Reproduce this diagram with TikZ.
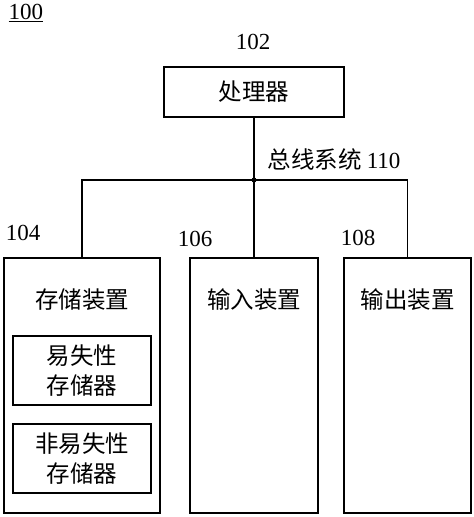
\documentclass[tikz,border=0pt]{standalone}
\usepackage{fontspec}
\setmainfont{Liberation Serif}
\newfontfamily\cjk{Noto Sans CJK SC}
\usetikzlibrary{positioning}

\tikzset{
  unit/.style={draw,line width=1.2pt,rectangle,inner sep=0pt},
  part/.style={font=\fontsize{23.5}{30}\selectfont\cjk,align=center},
  refnum/.style={font=\fontsize{23}{26}\selectfont},
  wire/.style={line width=1.2pt}
}

\begin{document}
\begin{tikzpicture}[x=1pt,y=-1pt]
  \useasboundingbox (0,0) rectangle (474,517);

  % processor and bus
  \node[unit,minimum width=180pt,minimum height=50pt] (cpu) at (254,92) {};
  \node[part] at (cpu) {处理器};
  \coordinate (bus) at (254,180);

  % three devices
  \node[unit,minimum width=156pt,minimum height=255pt] (mem) at (82,385.5) {};
  \node[unit,minimum width=128pt,minimum height=255pt] (inp) at (254,385.5) {};
  \node[unit,minimum width=127pt,minimum height=255pt] (outp) at (407.5,385.5) {};
  \node[part] (memtxt) at (82,300) {存储装置};
  \node[part] (inptxt) at (254,300) {输入装置};
  \node[part] (outptxt) at (407.5,300) {输出装置};

  % memories inside the storage
  \node[unit,minimum width=138pt,minimum height=69pt] (vol) at (82,370.5) {};
  \node[part] at (vol) {易失性\\存储器};
  \node[unit,minimum width=138pt,minimum height=69pt] (nvol) at (82,458.5) {};
  \node[part] at (nvol) {非易失性\\存储器};

  % connections
  \draw[wire] (cpu.south) -- (bus);
  \draw[wire] (mem.north) |- (bus) -| (outp.north);
  \draw[wire] (bus) -- (inp.north);
  \fill (bus) circle (2.5pt);

  % reference numbers
  \node[refnum] (n100) at (26,13) {\underline{100}};
  \node[refnum] (n102) at (253,42) {102};
  \node[part,anchor=west] (n110) at (264,159) {总线系统 {\fontsize{23}{26}\selectfont\rmfamily 110}};
  \node[refnum] (n104) at (23,233) {104};
  \node[refnum] (n106) at (195,239) {106};
  \node[refnum] (n108) at (358,238) {108};
\end{tikzpicture}
\end{document}
